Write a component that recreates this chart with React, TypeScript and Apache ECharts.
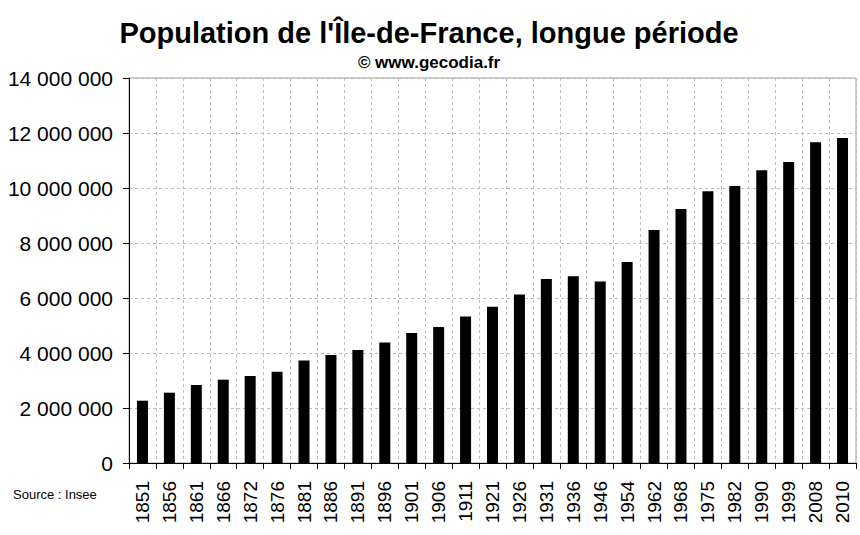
import { useEffect, useRef } from 'react';
import * as echarts from 'echarts';

const years = [
  '1851', '1856', '1861', '1866', '1872', '1876', '1881', '1886', '1891', '1896',
  '1901', '1906', '1911', '1921', '1926', '1931', '1936', '1946', '1954', '1962',
  '1968', '1975', '1982', '1990', '1999', '2008', '2010',
];

const population = [
  2265000, 2557000, 2836000, 3030000, 3160000, 3320000, 3730000, 3930000, 4110000, 4380000,
  4730000, 4950000, 5330000, 5680000, 6130000, 6690000, 6790000, 6600000, 7310000, 8470000,
  9240000, 9880000, 10070000, 10650000, 10950000, 11660000, 11820000,
];

const TITLE = "Population de l'Île-de-France, longue période";
const SUBTITLE = '© www.gecodia.fr';
const SOURCE = 'Source : Insee';

const FONT = "'Liberation Sans', Arial, sans-serif";

const fmt = (v: number) => String(Math.round(v)).replace(/\B(?=(\d{3})+(?!\d))/g, ' ');

export default function App() {
  const chartRef = useRef<HTMLDivElement>(null);

  useEffect(() => {
    if (!chartRef.current) return;
    const chart = echarts.init(chartRef.current, null, { renderer: 'svg' });

    const option: echarts.EChartsOption = {
      animation: false,
      backgroundColor: '#ffffff',
      title: [
        {
          text: TITLE,
          left: 424,
          top: 13,
          textAlign: 'center',
          textStyle: { fontFamily: FONT, fontSize: 29, fontWeight: 'bold', color: '#000' },
        },
        {
          text: SUBTITLE,
          left: 424,
          top: 49,
          textAlign: 'center',
          textStyle: { fontFamily: FONT, fontSize: 17, fontWeight: 'bold', color: '#000' },
        },
        {
          text: SOURCE,
          left: 8,
          top: 483,
          textStyle: { fontFamily: FONT, fontSize: 13, fontWeight: 'normal', color: '#000' },
        },
      ],
      grid: {
        left: 129,
        right: 4,
        top: 78,
        bottom: 72,
        show: true,
        borderColor: '#a0a0a0',
        borderWidth: 1,
      },
      xAxis: {
        type: 'category',
        data: years,
        axisLine: { lineStyle: { color: '#000', width: 1 } },
        axisTick: { show: true, interval: 0, length: 6, lineStyle: { color: '#000' } },
        axisLabel: {
          interval: 0,
          rotate: 90,
          margin: 18,
          fontFamily: FONT,
          fontSize: 19,
          color: '#000',
        },
        splitLine: {
          show: true,
          interval: 0,
          lineStyle: { color: '#bdbdbd', type: [3, 3], width: 1 },
        },
      },
      yAxis: {
        type: 'value',
        min: 0,
        max: 14000000,
        interval: 2000000,
        axisLine: { show: true, lineStyle: { color: '#000', width: 1 } },
        axisTick: { show: true, length: 6, lineStyle: { color: '#000' } },
        axisLabel: {
          formatter: (v: number) => fmt(v),
          fontFamily: FONT,
          fontSize: 21,
          color: '#000',
          margin: 16,
        },
        splitLine: { lineStyle: { color: '#bdbdbd', type: [3, 3], width: 1 } },
      },
      series: [
        {
          type: 'bar',
          data: population,
          barWidth: 11,
          itemStyle: { color: '#000' },
        },
      ],
    };

    chart.setOption(option);
    return () => chart.dispose();
  }, []);

  return (
    <div
      ref={chartRef}
      style={{ position: 'fixed', left: 0, top: 0, width: 860, height: 535 }}
    />
  );
}
